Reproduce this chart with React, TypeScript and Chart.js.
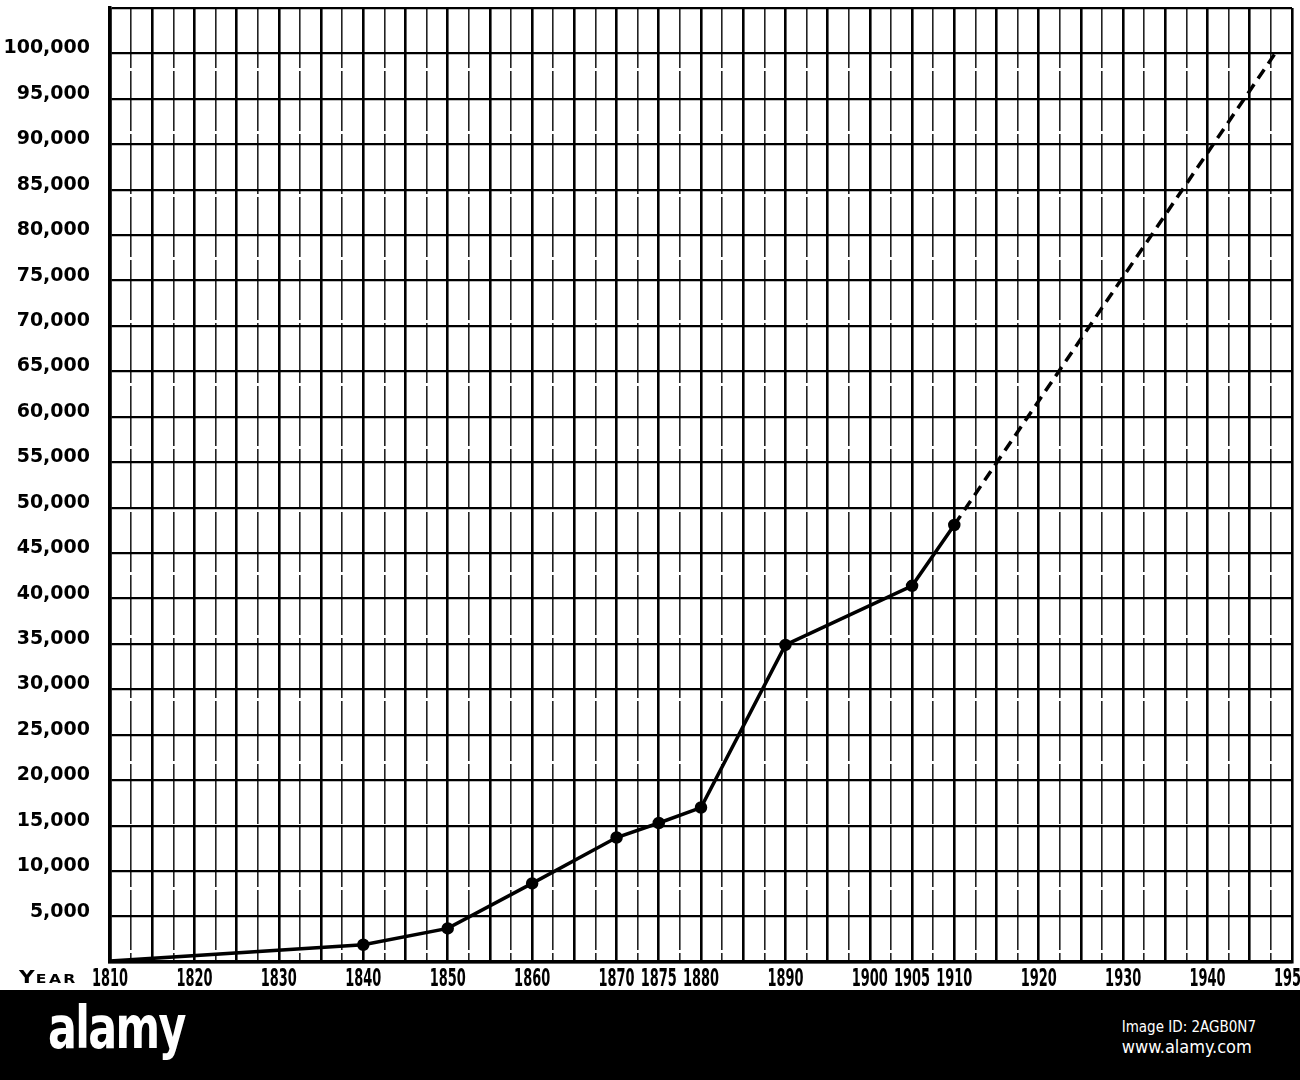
import React, { useEffect, useRef } from 'react';
import { Chart, registerables } from 'chart.js';

Chart.register(...registerables);

// ---- data ----
const years = [1810, 1840, 1850, 1860, 1870, 1875, 1880, 1890, 1905, 1910];
const population = [100, 1900, 3700, 8650, 13700, 15300, 17000, 34900, 41400, 48100];
const projectionYears = [1910, 1948];
const projectionValues = [48100, 100000];
const xLabelYears = [1810, 1820, 1830, 1840, 1850, 1860, 1870, 1875, 1880, 1890, 1900, 1905, 1910, 1920, 1930, 1940, 1950];
const xMin = 1810;
const xMax = 1950;
const yMin = 0;
const yMax = 105000;
const yStep = 5000;
const yLabelMax = 100000;

const majorYears: number[] = [];
for (let v = xMin; v <= xMax; v += 5) majorYears.push(v);
const minorYears: number[] = [];
for (let v = xMin + 2.5; v < xMax; v += 5) minorYears.push(v);

const yearLabelsPlugin = {
  id: 'yearLabels',
  afterDraw(chart: any) {
    const { ctx, chartArea, scales } = chart;
    const xs = scales.x;
    const base = chartArea.bottom + 24;
    ctx.save();
    ctx.fillStyle = '#000';
    ctx.font = 'bold 24px "Liberation Sans Narrow", "DejaVu Sans Condensed", sans-serif';
    ctx.textAlign = 'center';
    ctx.textBaseline = 'alphabetic';
    xLabelYears.forEach((yr) => {
      const px = xs.getPixelForValue(yr);
      ctx.save();
      ctx.translate(px, base);
      ctx.scale(0.6, 1);
      ctx.fillText(String(yr), 0, 0);
      ctx.restore();
    });
    ctx.textAlign = 'left';
    ctx.save();
    ctx.translate(19, base - 3);
    ctx.scale(1.2, 1);
    try { (ctx as any).letterSpacing = '2px'; } catch (e) {}
    ctx.font = 'bold 18px "DejaVu Sans", sans-serif';
    ctx.fillText('Y', 0, 0);
    const w = ctx.measureText('Y').width;
    ctx.font = 'bold 13px "DejaVu Sans", sans-serif';
    ctx.fillText('EAR', w - 1, 0);
    ctx.restore();
    ctx.restore();
  },
};

function PopulationChart() {
  const ref = useRef<HTMLCanvasElement | null>(null);
  useEffect(() => {
    if (!ref.current) return;
    const chart = new Chart(ref.current, {
      type: 'line',
      data: {
        datasets: [
          {
            data: years.map((x, i) => ({ x, y: population[i] })),
            borderColor: '#000',
            backgroundColor: '#000',
            borderWidth: 3.5,
            pointRadius: years.map((_, i) => (i === 0 ? 0 : 4.5)),
            pointBackgroundColor: '#000',
            pointBorderColor: '#000',
            tension: 0,
            xAxisID: 'x',
          },
          {
            data: projectionYears.map((x, i) => ({ x, y: projectionValues[i] })),
            borderColor: '#000',
            borderWidth: 3.5,
            borderDash: [11, 7],
            pointRadius: 0,
            tension: 0,
            xAxisID: 'x',
          },
        ],
      },
      options: {
        animation: false,
        responsive: false,
        devicePixelRatio: 1,
        layout: { padding: { left: 0, right: 6, top: 3, bottom: 0 } },
        plugins: { legend: { display: false }, tooltip: { enabled: false } },
        scales: {
          x: {
            type: 'linear',
            position: 'bottom',
            min: xMin,
            max: xMax,
            afterBuildTicks: (scale: any) => {
              scale.ticks = majorYears.map((v) => ({ value: v }));
            },
            afterFit: (scale: any) => {
              scale.height = 28;
              scale.paddingLeft = 0;
              scale.paddingRight = 0;
            },
            ticks: { display: false },
            grid: { color: '#000', lineWidth: 2.6, drawTicks: false },
            border: { color: '#000', width: 3.5 },
          },
          x2: {
            type: 'linear',
            position: 'bottom',
            min: xMin,
            max: xMax,
            afterBuildTicks: (scale: any) => {
              scale.ticks = minorYears.map((v) => ({ value: v }));
            },
            afterFit: (scale: any) => {
              scale.height = 0;
              scale.paddingLeft = 0;
              scale.paddingRight = 0;
            },
            ticks: { display: false },
            grid: { color: '#222', lineWidth: 1.6, drawTicks: false },
            border: { display: false, dash: [60, 3] },
          },
          y: {
            type: 'linear',
            min: yMin,
            max: yMax,
            afterFit: (scale: any) => {
              scale.width = 110;
              scale.paddingTop = 0;
              scale.paddingBottom = 0;
            },
            ticks: {
              stepSize: yStep,
              padding: 20,
              labelOffset: -5,
              color: '#000',
              font: { family: '"DejaVu Sans", sans-serif', weight: 'bold', size: 19 },
              callback: (v: any) =>
                v === 0 || v > yLabelMax ? '' : Number(v).toLocaleString('en-US'),
            },
            grid: { color: '#000', lineWidth: 2.2, drawTicks: false },
            border: { color: '#000', width: 3.5 },
          },
        },
      } as any,
      plugins: [yearLabelsPlugin],
    });
    return () => chart.destroy();
  }, []);
  return <canvas ref={ref} width={1300} height={990} style={{ display: 'block' }} />;
}

export default function App() {
  return (
    <div style={{ position: 'absolute', left: 0, top: 0, width: 1300, height: 1080, background: '#fff', overflow: 'hidden' }}>
      <PopulationChart />
      <div style={{ position: 'absolute', left: 0, top: 990, width: 1300, height: 90, background: '#000', color: '#fff' }}>
        <div
          style={{
            position: 'absolute',
            left: 48,
            top: 4,
            fontFamily: '"Liberation Sans Narrow", "DejaVu Sans Condensed", sans-serif',
            fontWeight: 'bold',
            fontSize: 58,
            letterSpacing: -2,
            transform: 'scaleX(0.82)',
            transformOrigin: 'left top',
          }}
        >
          alamy
        </div>
        <div
          style={{
            position: 'absolute',
            right: 44,
            top: 28,
            fontFamily: '"Liberation Sans Narrow", "DejaVu Sans Condensed", sans-serif',
            fontSize: 15,
            lineHeight: '18px',
            textAlign: 'left',
          }}
        >
          <div>Image ID: 2AGB0N7</div>
          <div style={{ fontSize: 18, marginTop: 2 }}>www.alamy.com</div>
        </div>
      </div>
    </div>
  );
}
